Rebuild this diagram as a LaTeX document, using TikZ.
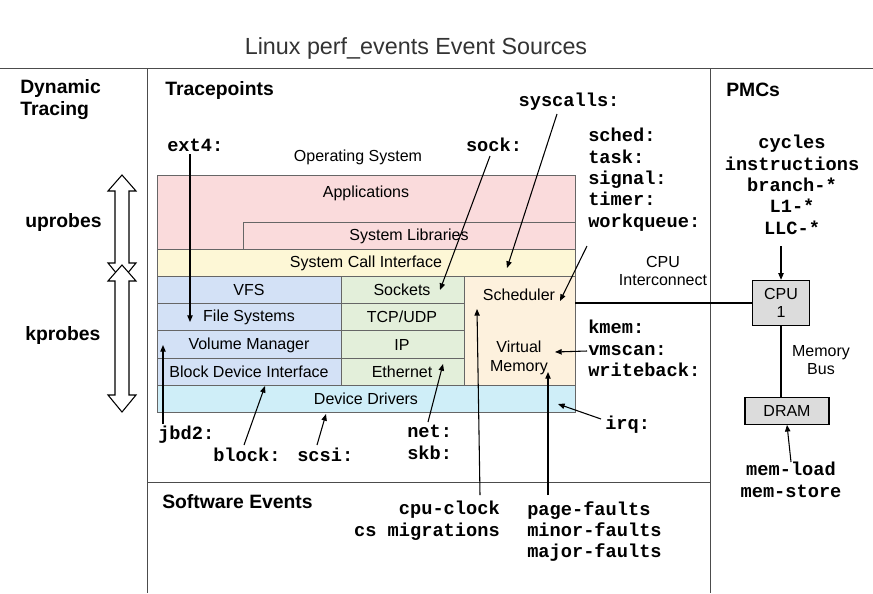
\documentclass[tikz,border=0pt]{standalone}
\usepackage{fontspec}
\setmainfont{Liberation Sans}
\newfontfamily\monof{Liberation Mono}
\usetikzlibrary{arrows.meta}
\definecolor{app}{HTML}{FADBDC}
\definecolor{sci}{HTML}{FDF7D6}
\definecolor{fsb}{HTML}{D3E1F6}
\definecolor{net}{HTML}{E3EFDA}
\definecolor{sch}{HTML}{FDF1DD}
\definecolor{dev}{HTML}{CFEEF8}
\definecolor{gbx}{HTML}{DCDCDC}
\begin{document}
\begin{tikzpicture}[x=0.75pt,y=-0.75pt,
  bx/.style={draw=black!60,line width=0.5pt},
  t/.style={font=\fontsize{12}{14}\selectfont,inner sep=0pt},
  hd/.style={font=\fontsize{14.5}{17}\selectfont\bfseries,inner sep=0pt,anchor=west},
  mo/.style={font=\fontsize{14}{16}\selectfont\monof\bfseries,inner sep=0pt},
  ar/.style={-{Triangle[length=5pt,width=4pt]},line width=0.8pt},
  ln/.style={line width=0.6pt,black!70},
  dar/.style={draw,line width=0.8pt,fill=white}]
\useasboundingbox (0,0) rectangle (873,593);
\node[font=\fontsize{17.5}{19}\selectfont] (title) at (416,48) {\color{black!80}Linux perf\_events Event Sources};
\draw[ln] (0,68) -- (873,68);
\draw[ln] (147,68) -- (147,593);
\draw[ln] (710,68) -- (710,593);
\draw[ln] (147,482) -- (710,482);
\node[hd,align=left,anchor=north west] (dt) at (20,79) {Dynamic\\Tracing};
\node[hd] (tp) at (165,90) {Tracepoints};
\node[hd] (pmc) at (726,90) {PMCs};
\node[hd] (se) at (162,502) {Software Events};
\node[t] (os) at (358,157) {Operating System};
% boxes
\fill[app] (157,175) rectangle (575,249);
\draw[bx] (157,175) rectangle (575,249);
\draw[bx,fill=app] (243,222) rectangle (575,249);
\node[t] (apps) at (366,193) {Applications};
\node[t] (slib) at (409,236) {System Libraries};
\draw[bx,fill=sci] (157,249) rectangle (575,276);
\node[t] (sci) at (366,263) {System Call Interface};
\foreach \y in {276,303.3,330.6,357.9}{
  \draw[bx,fill=fsb] (157,\y) rectangle (341,\y+27.3);
  \draw[bx,fill=net] (341,\y) rectangle (464,\y+27.3);
}
\node[t] (vfs) at (249,290) {VFS};
\node[t] (fs) at (249,317) {File Systems};
\node[t] (vm) at (249,345) {Volume Manager};
\node[t] (bdi) at (249,372) {Block Device Interface};
\node[t] (sock) at (402,290) {Sockets};
\node[t] (tcp) at (402,317) {TCP/UDP};
\node[t] (ip) at (402,345) {IP};
\node[t] (eth) at (402,372) {Ethernet};
\draw[bx,fill=sch] (464,276) rectangle (575,331);
\draw[bx,fill=sch] (464,331) rectangle (575,385);
\fill[sch] (464.5,329) rectangle (574.5,333);
\node[t] (sched) at (519,295) {Scheduler};
\node[t,align=center] (vmem) at (519,358) {Virtual\\Memory};
\draw[bx,fill=dev] (157,385) rectangle (575,412);
\node[t] (dd) at (366,399) {Device Drivers};
% probes arrows
\draw[dar] (122,175) -- (136,191) -- (129,191) -- (129,263) -- (136,263) -- (122,280) -- (108,263) -- (115,263) -- (115,191) -- (108,191) -- cycle;
\draw[dar] (122,265) -- (136,281) -- (129,281) -- (129,395) -- (136,395) -- (122,412) -- (108,395) -- (115,395) -- (115,281) -- (108,281) -- cycle;
\node[hd] (upl) at (25,222) {uprobes};
\node[hd] (kpl) at (25,335) {kprobes};
% CPU / DRAM
\node[draw,line width=0.8pt,fill=gbx,minimum width=43pt,minimum height=34pt,align=center,t] (cpu) at (781,303) {CPU\\1};
\node[draw,line width=0.8pt,fill=gbx,minimum width=63pt,minimum height=20pt,t] (dram) at (787,411) {DRAM};
\coordinate (schr) at (575,303);
\draw[line width=0.8pt] (schr) -- (cpu.west);
\draw[line width=0.8pt] (cpu.south) -- (cpu.south |- dram.north);
\node[t,align=center] (ci) at (663,271) {CPU\\Interconnect};
\node[t,align=center] (mb) at (821,360) {Memory\\Bus};
% mono labels
\node[mo,anchor=west] (ext4) at (167,145) {ext4:};
\node[mo] (sysc) at (569,102) {syscalls:};
\node[mo] (sockl) at (494,145) {sock:};
\node[mo,anchor=north west,align=left] (schl) at (588,128) {sched:\\task:\\signal:\\timer:\\workqueue:};
\node[mo,anchor=north,align=center] (pmcl) at (792,135) {cycles\\instructions\\branch-*\\L1-*\\LLC-*};
\node[mo,anchor=north west,align=left] (kmem) at (588,320) {kmem:\\vmscan:\\writeback:};
\node[mo,anchor=west] (irq) at (605,425) {irq:};
\node[mo,anchor=west] (jbd) at (158,435) {jbd2:};
\node[mo,anchor=west] (blk) at (213,455) {block:};
\node[mo,anchor=west] (scsi) at (297,455) {scsi:};
\node[mo,anchor=north west,align=left] (netl) at (407,425) {net:\\skb:};
\node[mo,anchor=north east,align=right] (cpuc) at (500,501) {cpu-clock\\cs migrations};
\node[mo,anchor=north west,align=left] (pf) at (527,501) {page-faults\\minor-faults\\major-faults};
\node[mo,anchor=north,align=center] (mem) at (791,462) {mem-load\\mem-store};
% arrows
\coordinate (a1) at (190,154); \coordinate (b1) at (190,322);
\draw[ar] (a1) -- (b1);
\coordinate (a2) at (557,114); \coordinate (b2) at (507,268);
\draw[ar] (a2) -- (b2);
\coordinate (a3) at (490,156); \coordinate (b3) at (440,290);
\draw[ar] (a3) -- (b3);
\coordinate (a4) at (587,246); \coordinate (b4) at (560,301);
\draw[ar] (a4) -- (b4);
\draw[ar] (781,246) -- (cpu.north);
\coordinate (a5) at (587,351); \coordinate (b5) at (555,352);
\draw[ar] (a5) -- (b5);
\coordinate (a6) at (601,419); \coordinate (b6) at (558,404);
\draw[ar] (a6) -- (b6);
\coordinate (a7) at (163,424); \coordinate (b7) at (163,345);
\draw[ar] (a7) -- (b7);
\coordinate (a8) at (244,445); \coordinate (b8) at (265,386);
\draw[ar] (a8) -- (b8);
\coordinate (a9) at (317,445); \coordinate (b9) at (326,414);
\draw[ar] (a9) -- (b9);
\coordinate (a10) at (428,422); \coordinate (b10) at (443,364);
\draw[ar] (a10) -- (b10);
\coordinate (a11) at (480,495); \coordinate (b11) at (477,309);
\draw[ar] (a11) -- (b11);
\coordinate (a12) at (548,495); \coordinate (b12) at (548,372);
\draw[ar] (a12) -- (b12);
\draw[ar] (mem.north) -- (dram.south);
\end{tikzpicture}
\end{document}
